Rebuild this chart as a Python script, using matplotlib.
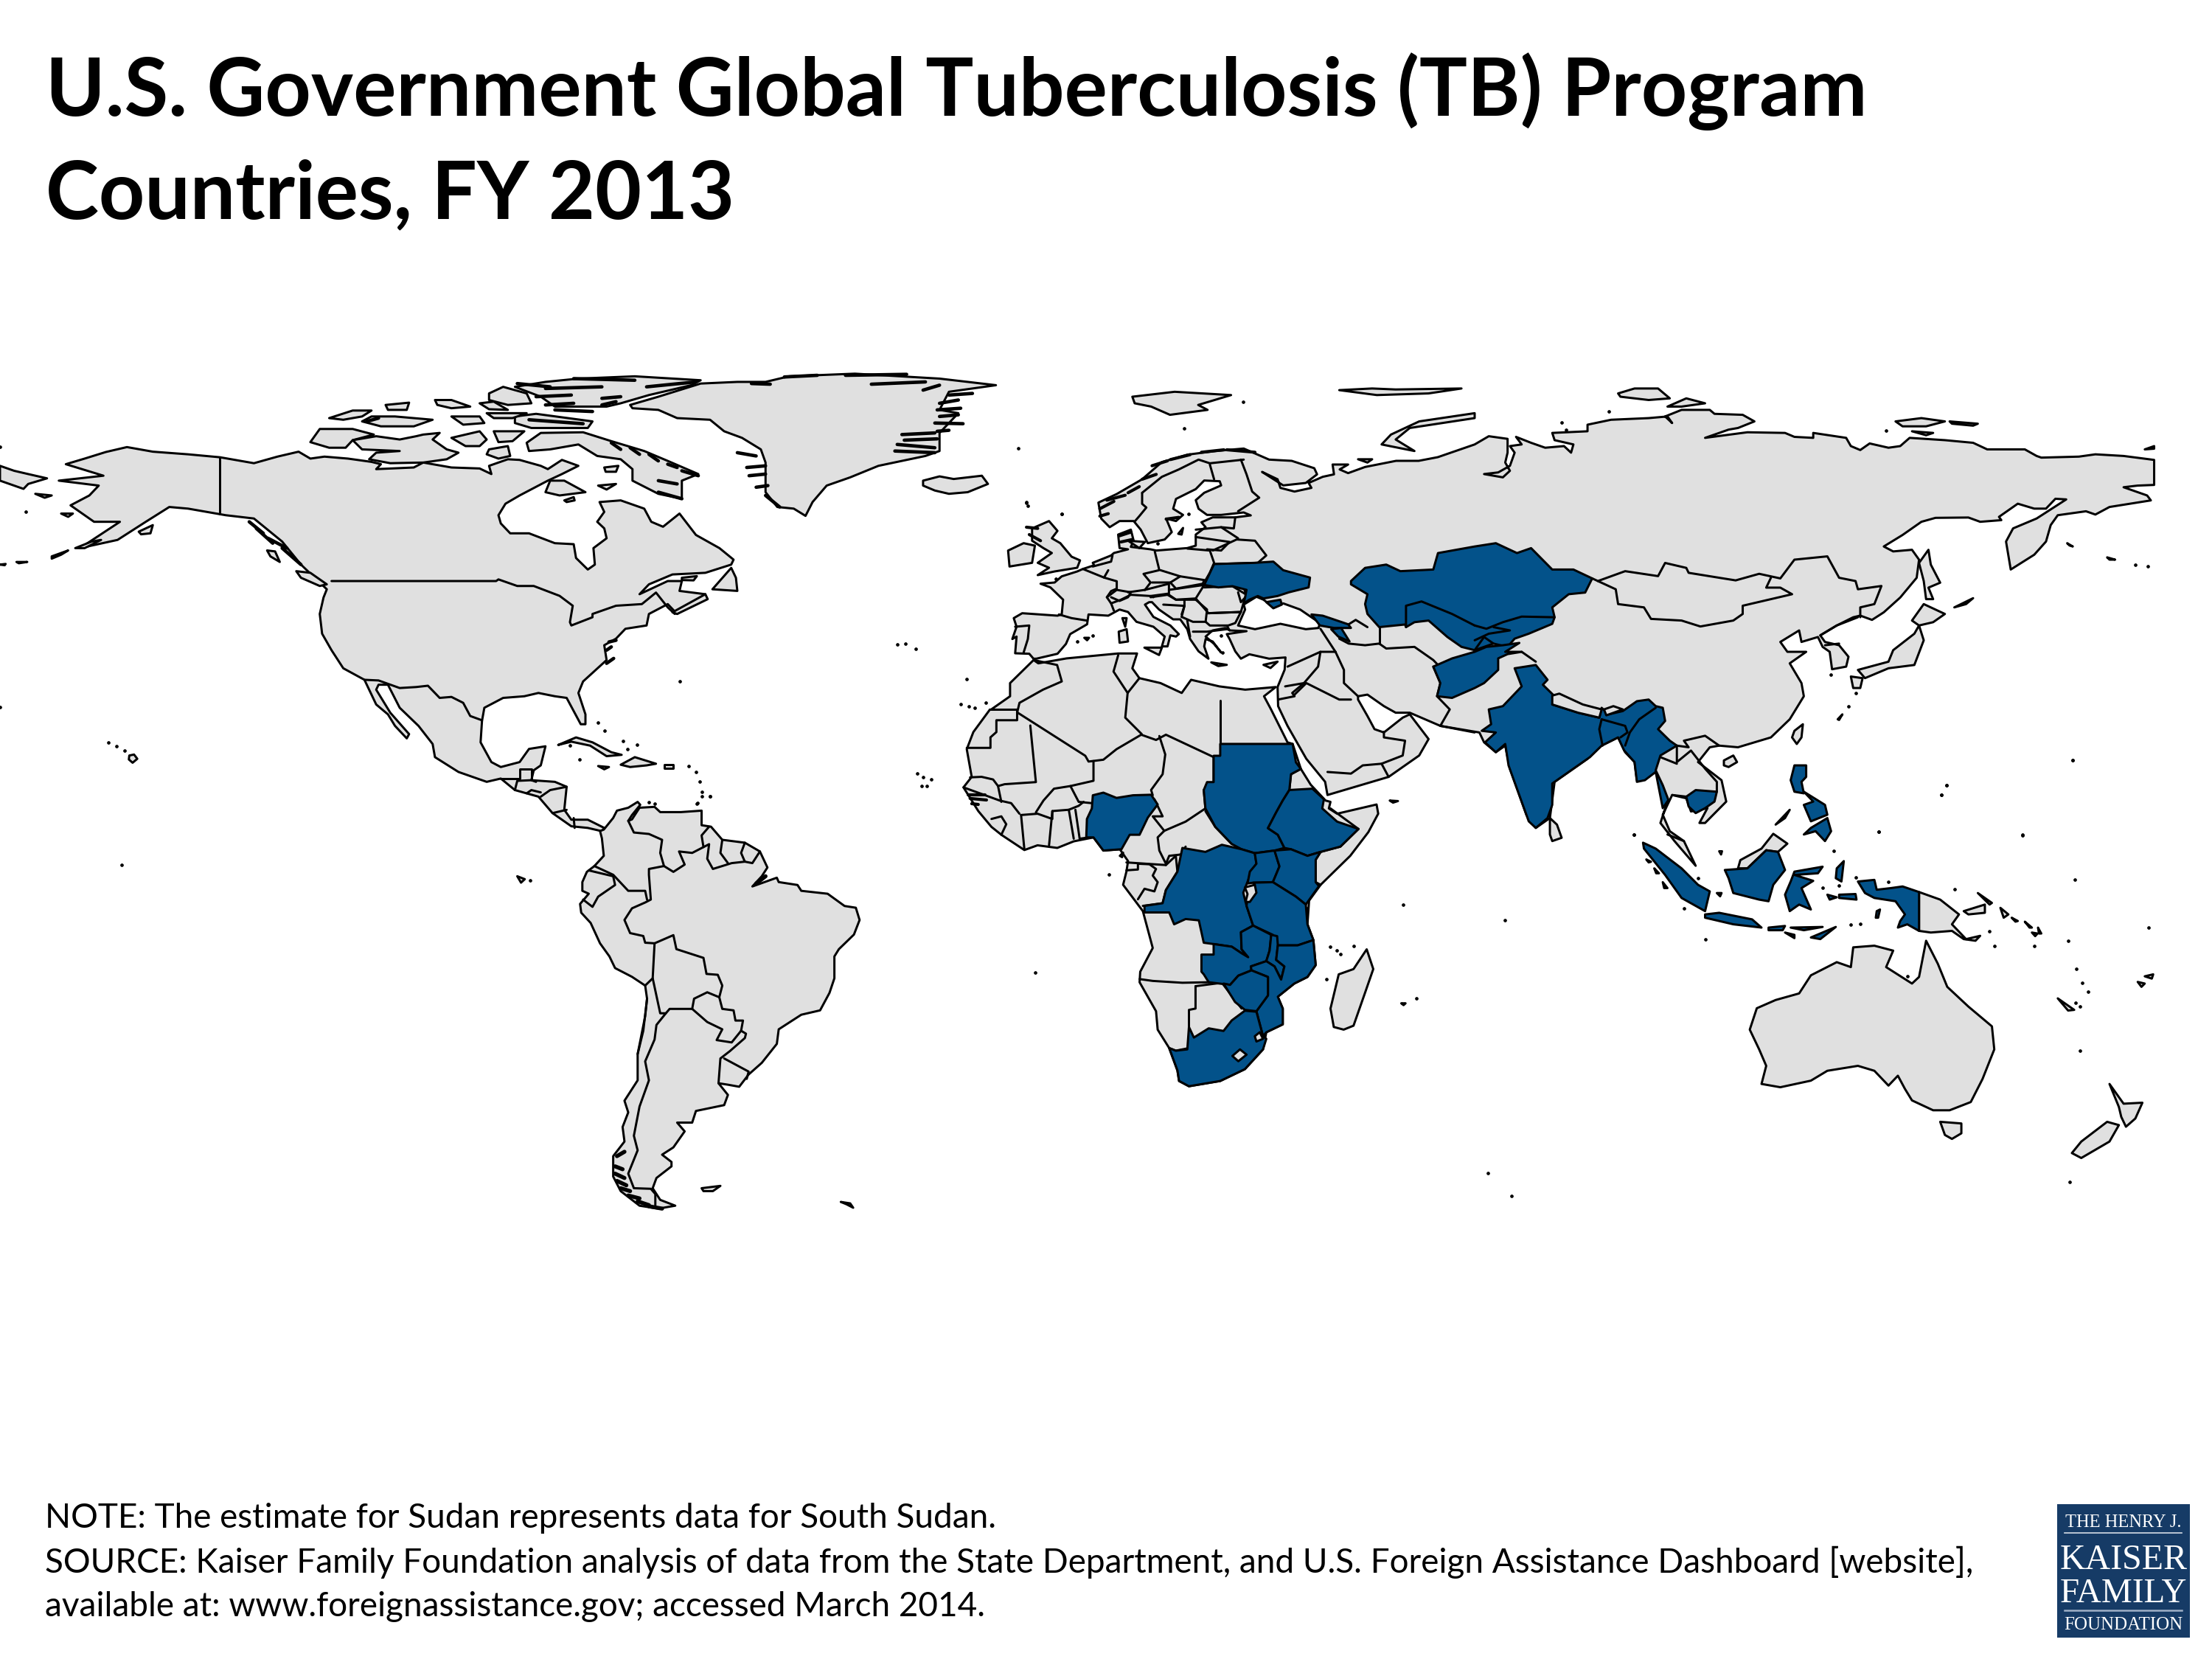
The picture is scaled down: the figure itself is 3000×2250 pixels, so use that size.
import matplotlib
matplotlib.use("Agg")
import matplotlib.pyplot as plt

GRAY = "#E0E0E0"
BLUE = "#03528A"
NAVY = "#163B66"
LW = 0.72

TITLE_LINES = ["U.S. Government Global Tuberculosis (TB) Program", "Countries, FY 2013"]
NOTE_LINES = ["NOTE: The estimate for Sudan represents data for South Sudan.",
              "SOURCE: Kaiser Family Foundation analysis of data from the State Department, and U.S. Foreign Assistance Dashboard [website],",
              "available at: www.foreignassistance.gov; accessed March 2014."]
LOGO_LINES = ["THE HENRY J.", "KAISER", "FAMILY", "FOUNDATION"]

# outline readings: each sheet of the map has an origin and a stretch
Z1 = (0, 480, 1.568, 2.24)
Z2 = (1000, 480, 1.568, 2.24)
Z3 = (2000, 480, 1.568, 2.24)
Z4 = (500, 1050, 1.96, 2.529)
Z5 = (1300, 950, 2.24, 2.8)
Z6 = (2000, 950, 1.568, 2.24)
Z8 = (1350, 600, 2.613, 3.0)

# ---------------- North America (sheet Z1)
NORTH_AMERICA = [(140,335),(180,318),(225,298),(270,283),(325,297),(400,305),(468,314),(540,332),(590,312),(635,297),(660,318),(690,312),(740,318),(790,328),(810,335),(800,350),(880,345),(900,330),(960,345),(1020,348),(1045,365),(1040,340),(1080,320),(1105,322),(1150,340),(1165,350),(1195,322),(1230,340),(1195,365),(1165,385),(1105,430),(1075,455),(1060,490),(1065,515),(1085,545),(1125,545),(1180,575),(1220,578),(1225,620),(1250,655),(1265,640),(1262,590),(1290,560),(1285,530),(1270,510),(1285,480),(1275,450),(1320,445),(1370,470),(1385,510),(1410,525),(1445,485),(1480,550),(1530,590),(1560,625),(1555,640),(1500,665),(1430,670),(1380,700),(1360,730),(1420,690),(1450,690),(1445,720),(1500,730),(1440,790),(1420,760),(1380,790),(1375,825),(1330,835),(1310,865),(1285,885),(1290,930),(1240,995),(1230,1030),(1245,1095),(1245,1125),(1235,1125),(1205,1045),(1180,1040),(1145,1030),(1115,1040),(1070,1045),(1030,1075),(1025,1115),(1022,1180),(1045,1240),(1065,1255),(1105,1240),(1125,1200),(1160,1192),(1150,1250),(1135,1265),(1130,1295),(1180,1300),(1205,1315),(1200,1385),(1215,1415),(1250,1415),(1285,1440),(1280,1450),(1250,1440),(1215,1435),(1175,1395),(1145,1345),(1095,1325),(1065,1290),(1035,1300),(975,1270),(925,1225),(920,1185),(890,1130),(850,1075),(825,1005),(805,1005),(800,1020),(830,1090),(870,1155),(865,1168),(840,1130),(825,1095),(800,1065),(775,990),(730,955),(705,900),(685,850),(680,790),(688,740),(695,715),(640,640),(600,570),(540,500),(480,490),(400,470),(360,465),(310,510),(250,565),(170,590),(255,510),(200,510),(150,460),(190,430),(210,400),(125,385),(220,370),(140,335)]
NA_ISLANDS = [
 [(660,268),(680,228),(750,228),(795,245),(750,262),(735,285),(700,285)],
 [(750,262),(800,250),(850,260),(885,250),(900,245),(935,240),(920,260),(950,290),(975,300),(950,320),(900,330),(830,332),(785,320),(800,300),(850,295),(770,290)],
 [(1120,270),(1150,240),(1240,238),(1300,265),(1370,295),(1420,325),(1485,365),(1450,385),(1450,440),(1400,425),(1345,385),(1345,350),(1320,320),(1270,310),(1230,275),(1170,290),(1125,295)],
 [(1230,75),(1350,68),(1490,80),(1470,95),(1380,125),(1320,150),(1290,160),(1180,160),(1150,130),(1095,100),(1160,85)],
 [(1040,120),(1070,100),(1120,120),(1130,150),(1080,155),(1040,140)],
 [(1095,190),(1140,182),(1260,205),(1250,225),(1130,225),(1095,210)],
 [(1050,235),(1115,235),(1090,265),(1060,268)],
 [(960,255),(1020,235),(1035,260),(1020,280),(990,280)],
 [(1040,290),(1080,280),(1085,310),(1060,318),(1035,305)],
 [(700,195),(750,172),(790,172),(770,190),(730,200)],
 [(770,205),(790,190),(840,190),(920,200),(880,220),(810,220)],
 [(820,155),(870,148),(865,170),(825,170)],
 [(925,140),(960,140),(1000,160),(960,165),(930,155)],
 [(1020,150),(1050,145),(1080,170),(1040,168)],
 [(960,190),(1020,190),(1030,210),(985,215)],
 [(1035,180),(1120,180),(1090,195),(1050,195)],
 [(1170,385),(1200,385),(1245,420),(1190,430),(1160,420)],
 [(1285,345),(1315,340),(1310,358),(1288,358)],
 [(1272,400),(1310,395),(1290,412)],
 [(1200,445),(1220,435),(1222,445),(1205,450)],
 [(0,340),(30,355),(60,365),(100,378),(60,395),(50,410),(20,395),(0,385)],
 [(75,425),(110,430),(95,437)],
 [(130,485),(155,485),(145,495)],
 [(295,540),(325,520),(320,545),(300,548)],
 [(110,615),(145,597),(130,610),(110,622)],
 [(160,590),(195,570),(215,565),(180,590)],
 [(0,640),(12,638),(10,642)],
 [(35,632),(58,632),(40,636)],
 [(568,597),(585,600),(595,632),(575,615)],
 [(630,660),(660,665),(695,700),(680,705),(640,680)],
 [(275,1220),(285,1217),(292,1230),(282,1242),(274,1232)],
 [(1187,1188),(1225,1165),(1260,1180),(1300,1210),(1322,1218),(1290,1222),(1255,1190),(1215,1178)],
 [(1320,1248),(1350,1225),(1395,1245),(1375,1250),(1340,1255)],
 [(1272,1252),(1295,1255),(1285,1262)],
 [(1412,1248),(1432,1248),(1432,1258),(1412,1258)],
 [(1515,715),(1555,650),(1565,680),(1568,720)],
 [(1450,680),(1482,675),(1475,688),(1450,687)],
 [(1430,785),(1500,730),(1505,745),(1440,790)],
]
NA_BORDERS = [
 [(468,314),(468,485)],
 [(705,690),(1055,690),(1060,685),(1100,705),(1135,705),(1190,735),(1218,765),(1212,815),(1215,825),(1260,800),(1260,790),(1310,765),(1365,760),(1395,725),(1420,770),(1435,790)],
 [(775,990),(805,992),(850,1015),(885,1012),(910,1008),(935,1045),(960,1042),(985,1060),(1000,1100),(1025,1113)],
 [(1065,1290),(1105,1290),(1105,1262),(1130,1262),(1130,1295)],
 [(1095,1325),(1100,1297),(1130,1295),(1140,1300)],
 [(1120,1335),(1130,1325),(1150,1332)],
 [(1150,1345),(1170,1325),(1205,1315)],
 [(1175,1395),(1205,1385)],
 [(1220,1410),(1222,1440)],
]
NA_JAGS = [
 [(530,510),(560,545)],[(545,530),(580,575)],[(570,560),(610,590)],[(600,590),(640,640)],
 [(1100,90),(1170,100)],[(1160,105),(1280,100)],[(1220,75),(1350,80)],[(1375,100),(1480,85)],
 [(1280,135),(1320,130)],[(1280,155),(1310,145)],[(1140,130),(1215,125)],[(1160,155),(1220,150)],
 [(1180,170),(1260,175)],[(780,205),(805,195)],[(1125,200),(1240,212)],
 [(1300,270),(1320,290)],[(1340,285),(1360,305)],[(1380,305),(1400,325)],[(1420,335),(1440,345)],[(1450,355),(1485,370)],
 [(1400,385),(1440,395)],[(1400,420),(1450,440)],
 [(1295,875),(1310,870)],[(1290,900),(1300,890)],[(1290,940),(1305,925)],
]
NA_DOTS = [(230,1180),(248,1192),(265,1205),(55,480),(1445,995),(258,1552),(0,282),(0,1072),(1272,1120),(1285,1145),(1325,1175),(1335,1200),(1355,1188),(1232,1233),(1465,1253),(1480,1270),(1488,1300),(1492,1330),(1483,1365),(1510,1345),(1212,1190)]

# ---------------- South America (sheet Z4)
SOUTH_AMERICA = [(625,190),(650,150),(660,125),(690,115),(715,95),(722,105),(700,140),(690,160),(700,155),(720,115),(760,112),(775,130),(830,130),(885,125),(885,175),(910,180),(940,225),(1000,235),(1040,265),(1060,320),(1045,350),(1020,385),(1085,355),(1090,370),(1140,380),(1150,400),(1220,410),(1265,452),(1295,458),(1305,500),(1290,550),(1250,600),(1238,625),(1238,700),(1225,750),(1200,810),(1150,825),(1090,875),(1085,925),(1045,990),(1010,1030),(985,1072),(955,1065),(930,1060),(955,1100),(945,1135),(870,1155),(860,1195),(820,1195),(840,1225),(810,1280),(780,1305),(805,1330),(805,1345),(765,1385),(755,1420),(775,1460),(815,1480),(770,1490),(720,1480),(670,1430),(650,1380),(650,1310),(680,1260),(675,1210),(690,1160),(680,1120),(715,1050),(715,960),(730,880),(740,770),(735,725),(700,695),(655,665),(640,625),(615,580),(590,510),(565,475),(562,445),(585,410),(568,400),(568,370),(580,335),(600,315),(625,280),(620,220),(615,195)]
SA_ISLANDS = [
 [(885,1420),(935,1412),(915,1430),(890,1430)],
 [(1255,1467),(1280,1472),(1288,1487),(1270,1475)],
 [(395,350),(415,360),(405,372)],
]
SA_BORDERS = [
 [(690,160),(705,200),(745,205),(780,225),(775,270),(785,315),(810,335),(840,310),(825,265),(860,270),(890,250),(885,210),(905,180)],
 [(890,250),(905,240),(900,290),(915,325),(965,305),(1000,300),(1020,305),(1040,265)],
 [(940,225),(935,270),(955,305)],
 [(1000,235),(990,270),(1000,300)],
 [(785,315),(745,325),(745,345),(750,430),(735,440),(700,460),(680,500),(695,545),(730,555),(735,578),(760,580),(810,552),(818,600),(890,630),(898,685),(928,688),(940,725),(932,765),(940,805),(970,810),(975,845),(995,845),(990,880),(1003,890),(1000,905),(960,950),(935,975),(930,1060)],
 [(600,315),(650,345),(690,400),(735,400),(740,430)],
 [(585,330),(650,350),(655,380),(610,420),(595,455),(570,430)],
 [(760,580),(755,700),(735,725)],
 [(755,700),(765,760),(775,820),(790,820),(800,805),(860,805),(865,770),(900,748),(932,765)],
 [(860,805),(900,850),(940,875),(925,912),(965,920),(990,880)],
 [(790,820),(765,860),(760,910),(735,985),(745,1050),(720,1140),(705,1240),(715,1290),(690,1370),(705,1420),(750,1422),(762,1440),(762,1480)],
 [(740,770),(735,830),(715,960)],
 [(945,975),(1010,1020),(1005,1045)],
]
SA_JAGS = [
 [(655,1345),(675,1355)],[(655,1370),(680,1385)],[(660,1395),(685,1410)],[(670,1420),(695,1430)],[(690,1445),(720,1455)],[(715,1465),(745,1478)],[(745,1482),(780,1490)],
 [(660,1310),(680,1295)],[(1030,375),(1055,350)],
]
SA_DOTS = [(430,365),(745,95),(760,100),(873,100),(908,75),(885,75)]

# ---------------- Eurasia (sheets Z8, Z3, Z2)
EURASIA_A = [(135,880),(120,860),(70,858),(75,790),(60,800),(75,750),(65,715),(95,695),(220,705),(235,700),(240,640),(195,590),(160,575),(210,570),(235,545),(290,525),(310,515),(350,500),(345,490),(410,460),(420,450),(470,435),(440,430),(435,375),(480,355),(490,400),(480,425),(550,435),(570,440),(680,430),(710,420),(710,375),(745,345),(730,325),(770,305),(850,305),(905,297),(880,285),(800,295),(750,295),(720,270),(710,235),(740,205),(800,175),(795,158),(740,155),(710,190),(640,230),(630,270),(665,295),(640,320),(605,310),(625,365),(600,395),(540,410),(515,355),(490,320),(440,320),(405,345),(375,310),(365,245),(430,210),(520,150),(590,80),(680,50),(780,35),(880,25),(920,45),(970,70),(1050,75),(1130,105),(1140,130),(1100,165),(1020,175),(945,120),(1000,150),(1010,185),(1060,200),(1120,185),(1110,165),(1160,140),(1200,130),(1195,90),(1250,90),(1220,110),(1250,125),(1310,100),(1420,75),(1500,75),(1568,60)]
EURASIA_B = [(0,275),(30,250),(70,258),(70,300),(65,330),(75,355),(60,375),(20,365),(50,360),(75,340),(85,300),(75,280),(100,275),(88,252),(120,270),(150,285),(190,280),(205,300),(210,275),(170,262),(165,240),(240,235),(240,215),(290,200),(370,195),(410,190),(420,210),(405,190),(440,170),(500,170),(510,182),(570,185),(595,205),(560,225),(540,230),(490,255),(580,238),(660,240),(680,252),(720,255),(720,240),(790,255),(800,280),(820,292),(840,272),(880,285),(905,280),(925,255),(1000,262),(1060,270),(1090,290),(1170,290),(1195,310),(1205,315),(1285,312),(1320,305),(1380,310),(1445,322),(1445,398),(1410,400),(1380,405),(1430,430),(1438,445),(1350,465),(1320,488),(1300,478),(1240,490),(1225,520),(1215,570),(1190,610),(1140,655),(1130,570),(1145,530),(1195,500),(1258,442),(1235,440),(1215,470),(1190,470),(1155,455),(1115,495),(1120,505),(1075,510),(1050,497),(980,498),(950,510),(910,550),(870,585),(890,600),(930,595),(945,625),(940,680),(905,740),(870,785),(845,808),(820,795),(805,800),(770,825),(735,855),(745,875),(775,885),(795,920),(790,950),(760,958),(755,905),(740,890),(730,860),(695,875),(690,840),(650,875),(665,905),(705,905),(670,940),(695,1000),(700,1040),(670,1110),(630,1165),(560,1195),(520,1190),(500,1195),(475,1240),(525,1295),(535,1360),(490,1425),(478,1425),(495,1380),(460,1390),(450,1350),(420,1340),(400,1400),(415,1450),(445,1480),(470,1555),(425,1480),(395,1425),(410,1360),(385,1270),(345,1295),(340,1240),(320,1210),(305,1165),(270,1190),(240,1230),(170,1300),(160,1410),(130,1440),(110,1400),(75,1260),(65,1190),(45,1210),(20,1180),(10,1150)]
EURASIA_C = [(1495,1130),(1430,1090),(1400,1090),(1375,1070),(1340,1035),(1320,1040),(1320,1050),(1340,1100),(1355,1140),(1375,1150),(1415,1105),(1430,1095),(1470,1170),(1450,1220),(1385,1285),(1255,1340),(1250,1300),(1210,1230),(1170,1130),(1150,1070)]
EURASIA_D = [(1000,995),(1025,925),(1028,875),(970,880),(900,862),(870,880),(850,850),(830,800),(820,780),(890,768),(830,765),(815,755),(770,765),(745,790),(775,820),(800,855),(770,810),(745,800),(740,830),(755,880),(720,850),(690,800),(680,760),(655,720),(630,720),(580,680),(555,650),(545,650),(530,660),(560,710),(620,745),(650,780),(640,790),(620,785),(610,830),(590,830),(600,790),(560,750),(500,730),(470,690),(440,680),(400,705),(330,700),(325,740),(265,780),(250,820),(220,860),(145,880)]
BLACK_SEA = [(860,745),(885,680),(880,660),(925,628),(950,640),(985,670),(1020,655),(1080,680),(1150,735),(1145,755),(1100,760),(1010,738),(920,760)]
EU_ISLANDS = [
 [(130,350),(190,320),(220,360),(200,390),(230,410),(270,465),(300,480),(290,510),(210,525),(150,540),(190,510),(150,490),(200,450),(170,430),(130,400)],
 [(45,440),(100,410),(140,420),(130,490),(50,505)],
 [(437,770),(465,760),(470,810),(440,815)],
 [(450,715),(465,715),(460,750)],
 [(528,835),(590,835),(580,865)],
 [(765,895),(820,905),(790,910)],
 [(950,905),(1000,892),(975,918)],
 [(648,372),(665,348),(660,375)],
 [(470,400),(530,405),(510,430)],
 [(315,795),(332,795),(325,805)],
]
EU_BORDERS = [
 [(225,700),(270,715),(325,725)],
 [(310,515),(385,550),(430,565),(430,595),(410,605),(395,630),(410,655),(420,685)],
 [(345,505),(410,485),(415,460)],
 [(385,550),(400,520)],
 [(565,445),(580,515)],
 [(580,520),(525,535),(550,570),(530,600)],
 [(470,610),(530,600)],
 [(680,432),(760,440),(775,490),(760,530),(745,560)],
 [(585,520),(655,545),(620,570),(555,570)],
 [(655,545),(740,560),(735,575),(640,595),(620,570)],
 [(530,600),(615,575),(615,615),(550,625)],
 [(615,600),(740,580),(710,635),(640,640),(615,620)],
 [(395,630),(430,600),(480,610),(470,630),(440,645),(410,630)],
 [(410,655),(445,640),(480,620),(550,625),(560,630)],
 [(550,630),(610,620),(640,640),(710,640)],
 [(595,660),(670,665),(660,700)],
 [(670,640),(670,665),(660,710)],
 [(710,640),(750,680),(745,730),(700,730),(660,710)],
 [(740,590),(840,585),(890,620),(880,650),(870,690),(755,695),(710,635)],
 [(750,695),(870,690),(850,735),(825,745),(760,745),(745,730)],
 [(840,585),(880,590),(890,625),(870,650),(860,610)],
 [(680,725),(690,790)],
 [(700,770),(750,770),(820,760)],
 [(820,745),(830,765)],
 [(770,440),(855,395),(920,400),(960,460),(930,490),(780,495)],
 [(710,385),(830,405),(800,440),(750,435)],
 [(710,355),(800,345),(860,390)],
 [(800,345),(845,350),(850,305)],
 [(870,70),(890,130),(910,200),(935,225),(860,280)],
 [(760,90),(775,150)],
 [(520,205),(520,250),(535,265),(510,300),(495,320)],
 [(520,205),(590,140),(650,110),(720,70),(760,85),(880,70)],
 [(70,750),(120,745),(115,800),(100,855)],
]
EU_JAGS = [
 [(370,300),(400,290)],[(370,270),(420,240)],[(395,235),(460,215)],[(470,205),(510,180)],[(520,150),(570,130)],[(555,95),(610,75)],[(620,70),(690,50)],[(730,40),(810,30)],[(820,30),(920,40)],
 [(440,380),(480,365)],[(445,405),(485,395)],[(110,345),(150,350)],[(120,375),(160,400)],[(605,312),(650,305)],
]
EU_DOTS = [(290,810),(345,785),(215,555),(685,290),(110,245),(115,258),(235,290),(575,412),(800,785),(805,855)]

MIDEAST_BORDERS = [
 [(1272,905),(1290,960),(1290,1000),(1320,1040)],
 [(1170,950),(1240,905),(1272,905)],
 [(1240,905),(1235,950),(1205,1000)],
 [(1165,1010),(1205,1000),(1180,1030),(1185,1040),(1150,1050)],
 [(1185,1035),(1210,1000),(1280,1050),(1305,1050)],
 [(1255,1270),(1305,1275),(1330,1250),(1370,1245),(1385,1285)],
 [(1370,1245),(1415,1220),(1420,1175),(1375,1165),(1375,1148)],
 [(1240,835),(1272,905)],
 [(1280,865),(1300,880),(1335,885),(1365,880),(1380,895),(1440,890),(1480,930),(1490,945)],
 [(1480,950),(1495,1000),(1488,1040),(1515,1080),(1495,1130)],
 [(1340,830),(1315,808),(1285,835)],
 [(1365,830),(1365,880)],
 [(1495,1130),(1568,1150)],
]
NORTH_ISLANDS_Z2 = [
 [(840,130),(930,115),(1050,125),(980,155),(1000,170),(920,185),(880,160),(845,150)],
 [(1280,110),(1350,105),(1400,108),(1540,105),(1470,120),(1360,125)],
 [(1568,180),(1450,205),(1390,245),(1370,275),(1440,295),(1400,260),(1430,225),(1568,195)],
 [(1320,320),(1350,320),(1340,330)],
 [(395,385),(430,372),(460,380),(520,370),(533,395),(490,420),(450,425),(420,415),(395,400)],
]
GREENLAND = [(-228,155),(-168,130),(-78,90),(0,85),(60,85),(110,68),(250,60),(430,75),(550,95),(450,115),(430,170),(470,180),(430,240),(430,295),(400,310),(300,340),(240,375),(190,400),(160,450),(145,492),(120,470),(85,465),(60,420),(60,380),(60,330),(50,290),(10,255),(-28,235),(-58,200),(-128,195),(-168,170),(-223,165)]
GREENLAND_JAGS = [
 [(430,150),(470,140)],[(425,170),(475,165)],[(430,190),(470,185)],[(420,210),(480,212)],[(425,235),(450,232)],
 [(350,245),(420,240)],[(355,262),(425,258)],[(340,275),(420,285)],[(335,295),(420,300)],
 [(100,70),(170,65)],[(230,65),(360,62)],[(285,92),(400,85)],[(395,110),(430,95)],[(450,125),(500,120)],[(30,90),(70,92)],
 [(0,300),(40,310)],[(20,345),(60,340)],[(25,370),(60,365)],[(40,405),(65,400)],[(60,430),(90,465)],
]
ASIA_ISLANDS_Z3 = [
 [(305,120),(340,105),(390,105),(415,135),(370,140),(310,130)],
 [(410,160),(450,135),(490,150),(440,160)],
 [(895,205),(950,195),(1000,205),(960,220),(910,220)],
 [(1010,205),(1070,212),(1060,218),(1015,212)],
 [(930,235),(975,240),(960,247)],
 [(1425,290),(1445,280),(1445,288)],
 [(945,635),(965,595),(970,640),(990,695),(965,710),(975,745),(960,745),(955,690)],
 [(930,810),(955,760),(1000,790),(975,815),(945,825)],
 [(815,960),(880,935),(890,900),(935,850),(945,825),(955,870),(935,945),(880,955),(830,985)],
 [(800,980),(825,985),(820,1015),(805,1015)],
 [(680,1145),(698,1125),(695,1165),(685,1185),(675,1165)],
 [(530,1235),(550,1220),(558,1240),(540,1255),(530,1250)],
 [(160,1410),(175,1430),(185,1470),(165,1480),(160,1460)],
 [(1260,575),(1272,585),(1265,582)],
 [(1345,618),(1362,625),(1350,625)],
 [(1020,770),(1060,742),(1045,760)],
 [(772,1110),(782,1095),(775,1112)],
]
ASIA_BORDERS_Z3 = [
 [(250,682),(262,690),(320,660),(390,675),(405,635),(450,650),(455,665),(520,680),(555,688),(605,668),(650,682),(680,625),(750,615),(775,680),(810,690),(815,715),(865,705),(850,760),(820,770),(820,800)],
 [(262,690),(300,715),(305,760),(360,770),(375,805),(440,810),(480,828),(550,810),(570,790),(570,765),(630,745),(675,730),(650,710),(620,710),(630,680)],
 [(735,855),(770,825),(815,800)],
 [(745,885),(775,880)],
 [(430,1190),(455,1195),(445,1175),(490,1160),(520,1190)],
 [(430,1190),(430,1240),(460,1205),(490,1260),(515,1300),(515,1330)],
 [(395,1225),(430,1245)],
 [(410,1460),(445,1480)],
 [(100,905),(130,935)],
 [(450,1345),(420,1340)],
]
ASIA_DOTS_Z3 = [(285,175),(195,230),(185,208),(875,232),(1272,1235),(1003,1310),(992,1340),(860,1452),(1165,1462),(338,1460),(1405,640),(1432,645),(810,1030),(795,1070),(758,975)]

# ---------------- Africa (sheets Z2, Z5)
AFRICA_A = [(630,930),(640,940),(700,925),(810,910),(850,910),(840,955),(855,985),(900,1000),(945,1030),(965,990),(1025,1010),(1080,1020),(1145,1012),(1120,1040),(1135,1080),(1170,1180)]
AFRICA_B = [(1015,165),(1040,260),(1070,320),(1115,380),(1130,385),(1125,410),(1150,430),(1270,395),(1275,430),(1245,500),(1190,590),(1100,700),(1065,760),(1060,850),(1078,910),(1085,1005),(1060,1050),(1020,1075),(970,1125),(985,1170),(985,1230),(935,1260),(925,1325),(870,1400),(795,1445),(700,1465),(670,1445),(665,1405),(640,1320),(605,1250),(600,1180),(550,1070),(552,1030),(590,940),(575,870),(560,800),(500,700),(510,650),(515,610),(490,565),(440,570),(410,520),(350,535),(300,560),(240,550),(200,568),(130,510),(100,480),(60,420),(15,330),(40,290),(25,185),(45,120),(95,35)]
AFRICA_C = [(540,1080),(580,1040),(580,1000)]
AF_ISLANDS = [
 [(1130,1170),(1155,1040),(1200,1020),(1240,945),(1260,1020),(1235,1110),(1200,1235),(1170,1250),(1140,1240)],
 [(1310,380),(1335,382),(1320,388)],
 [(490,590),(500,578),(497,595)],
 [(1345,1150),(1358,1150),(1352,1157)],
]
AF_BORDERS = [
 [(25,180),(97,180),(97,140),(115,120),(115,75),(178,75),(178,35),(95,35)],
 [(178,45),(385,210),(395,232),(440,225),(480,185),(555,130)],
 [(218,95),(235,310),(140,318),(120,325),(105,300),(70,290),(35,292)],
 [(555,130),(600,150),(630,130),(775,215)],
 [(795,0),(795,160)],
 [(610,135),(628,205),(620,280),(585,340),(590,360)],
 [(410,230),(410,305),(340,325),(290,335),(258,380),(235,425)],
 [(775,215),(775,310),(745,340),(750,410),(690,460),(625,495),(590,440),(620,440),(595,375)],
 [(625,495),(605,520),(610,570),(630,620),(640,590),(675,585),(690,555)],
 [(750,420),(780,480),(830,545)],
 [(510,615),(630,625)],
 [(510,645),(545,642),(545,620),(580,622),(600,640),(590,665),(605,690),(595,725),(565,715),(545,755)],
 [(630,625),(660,590),(665,650),(630,720),(620,770),(560,780)],
 [(15,330),(125,380),(160,390),(185,430)],
 [(190,435),(200,565)],
 [(285,420),(275,550)],
 [(335,415),(350,525)],
 [(355,415),(368,525),(385,522)],
 [(120,325),(130,385)],
 [(190,435),(240,430),(285,450),(285,420),(335,415),(365,400),(380,385)],
 [(100,450),(130,440),(145,470),(130,510)],
 [(340,325),(365,385),(405,390)],
 [(550,1058),(590,1065),(680,1072),(760,1070)],
 [(720,1085),(720,1170),(700,1175),(700,1320),(660,1330),(640,1320)],
 [(720,1085),(800,1072),(860,1170)],
 [(1215,488),(1160,555),(1100,575),(1085,605),(1085,690),(1100,700)],
 [(1005,340),(1010,280),(1040,260)],
 [(1130,410),(1215,488)],
]
AF_BORDERS_Z2 = [
 [(630,930),(680,945),(690,995),(650,1020),(600,1060),(595,1090)],
 [(810,915),(800,965),(830,1030),(825,1105),(860,1155)],
 [(830,1030),(855,985)],
]
AF_JAGS = [[(30,358),(80,358)],[(35,372),(85,378)],[(40,392),(60,395)]]
AF_DOTS = [(457,662),(232,1032),(1350,775),(1128,935),(1150,948),(1160,962),(1200,932),(1118,1058),(1390,1132),(1060,790)]
AF_DOTS_Z2 = [(340,882),(357,880),(380,895),(488,987),(475,1063),(492,1070),(505,1075),(528,1060),(382,1275),(395,1285),(413,1292),(392,1313),(403,1312),(598,287),(950,226),(1075,145),(615,450),(690,485)]

# ---------------- blue programme countries
UKRAINE = [(740,580),(775,495),(920,490),(985,485),(1020,520),(1115,550),(1110,590),(1040,610),(1000,625),(950,635),(930,625),(900,640),(880,655),(885,630),(890,600),(840,585),(790,590)]
CRIMEA = [(960,650),(1010,640),(1015,660),(985,675)]
GEORGIA_AZ = [(1120,700),(1160,705),(1250,740),(1260,755),(1200,755),(1150,745)]
ARMENIA = [(1190,760),(1225,755),(1255,810),(1215,790)]
CASIA_A = [(1305,690),(1335,650),(1380,640),(1410,660),(1480,655),(1490,605),(1568,585)]
CASIA_B = [(45,575),(90,605),(120,590),(165,655),(210,655),(250,682),(235,725),(200,730),(165,770),(170,800),(165,820),(115,850),(85,865),(70,890),(40,880),(0,900)]
CASIA_C = [(1540,890),(1510,860),(1470,810),(1440,815),(1422,830),(1420,822),(1365,830),(1340,790),(1335,760),(1340,730),(1305,700)]
CASIA_LINES_Z2 = [[(1422,830),(1422,765),(1455,752),(1520,790),(1568,825)]]
CASIA_LINES_Z3 = [[(170,800),(100,798),(60,815),(25,835),(0,825)],[(0,870),(30,850),(75,840),(40,830)],[(0,900),(20,860),(40,880)]]
AFGHAN_A = [(1480,950),(1520,925),(1568,905)]
AFGHAN_B = [(25,890),(60,885),(95,878),(65,905),(100,905),(70,912),(50,925),(50,960),(20,1000),(0,1015)]
AFGHAN_C = [(1520,1045),(1488,1040),(1495,1000)]
INDIA_BURMA = [(85,955),(130,945),(155,990),(145,1005),(170,1040),(165,1065),(220,1090),(265,1105),(270,1075),(285,1095),(315,1085),(345,1055),(370,1050),(385,1070),(400,1075),(405,1115),(390,1140),(415,1175),(430,1190),(395,1220),(385,1265),(400,1310),(412,1355),(400,1380),(385,1270),(362,1295),(345,1300),(340,1240),(318,1205),(305,1165),(270,1190),(245,1225),(190,1280),(165,1305),(165,1370),(155,1410),(130,1440),(115,1420),(72,1250),(65,1185),(45,1210),(22,1180),(45,1150),(15,1145),(35,1125),(30,1080),(60,1070),(100,1010)]
INDIA_LINES = [[(270,1110),(320,1130),(325,1150),(310,1165)],[(270,1110),(265,1140),(272,1190)],[(385,1075),(350,1110),(330,1150),(320,1190)]]
NEPAL = [(165,1065),(165,1038),(180,1032),(230,1065),(270,1080),(265,1105),(220,1090)]
BHUTAN = [(275,1080),(295,1070),(315,1080),(280,1098)]
CAMBODIA = [(450,1345),(470,1325),(515,1330),(510,1360),(490,1380),(470,1395),(455,1375)]
LUZON = [(680,1250),(705,1250),(705,1285),(695,1300),(700,1335),(680,1330),(672,1295)]
VISAYAS = [(700,1330),(745,1370),(750,1400),(715,1420),(700,1370),(720,1360)]
MINDANAO = [(715,1440),(750,1410),(758,1450),(745,1480),(725,1450),(700,1460)]
PALAWAN = [(640,1430),(670,1385),(660,1410)]
SUMATRA = [(358,432),(385,450),(440,510),(475,560),(500,580),(490,640),(440,600),(405,530),(360,450)]
JAVA = [(490,650),(520,645),(590,665),(610,690),(550,680),(490,660)]
LESSER_SUNDA = [[(625,690),(660,685),(655,698),(625,698)],[(672,690),(740,688),(700,698)],[(660,705),(680,712),(680,722)],[(715,720),(768,688),(735,725)]]
BORNEO = [(532,515),(580,510),(620,455),(645,460),(660,515),(635,560),(625,610),(605,605),(550,585),(540,540)]
SULAWESI = [(680,520),(740,505),(730,525),(680,530),(720,548),(695,570),(715,635),(690,620),(670,640),(660,590),(672,550)]
MOLUCCAS = [[(770,510),(785,488),(780,550),(768,540)],[(750,590),(770,598),(755,605)],[(775,590),(810,588),(812,605),(775,600)],[(855,640),(862,635),(858,660),(853,660)]]
PAPUA = [(815,550),(850,545),(855,575),(885,570),(910,565),(945,582),(945,700),(920,680),(900,690),(905,670),(915,650),(895,610),(850,600),(830,585)]
NIGERIA = [(388,520),(390,450),(405,410),(408,360),(440,350),(480,370),(530,360),(585,358),(605,395),(575,445),(550,510),(520,510),(495,565),(440,570),(410,520)]
SUDAN = [(795,165),(1015,165),(1025,235),(1040,260),(1010,280),(1005,340),(985,380),(965,425),(940,485),(970,510),(990,560),(960,570),(900,580),(860,565),(830,545),(780,480),(750,410),(745,340),(755,310),(775,310),(775,210),(795,210)]
ETHIOPIA = [(1005,340),(1075,335),(1110,375),(1105,410),(1150,460),(1215,488),(1160,555),(1100,575),(1060,590),(1010,565),(990,560),(970,510),(940,485),(965,425),(985,380)]
DRC = [(565,805),(640,805),(655,850),(690,830),(730,835),(745,920),(775,925),(830,935),(860,960),(880,975),(860,945),(858,880),(895,855),(875,780),(865,730),(890,650),(905,620),(900,580),(860,565),(800,548),(750,575),(680,560),(665,650),(630,720),(620,770),(565,780)]
UGANDA = [(900,580),(960,570),(975,630),(955,690),(895,692),(878,695),(885,650),(905,620)]
KENYA = [(960,570),(1010,565),(1060,590),(1100,575),(1085,605),(1085,690),(1095,705),(1055,775),(1025,745),(955,690),(975,630)]
TANZANIA = [(895,692),(955,690),(1025,745),(1055,775),(1060,850),(1078,910),(1030,930),(970,930),(955,890),(895,855),(875,780),(880,730),(900,700)]
ZAMBIA = [(775,925),(830,935),(860,960),(880,975),(860,945),(858,880),(895,855),(950,890),(945,950),(935,990),(888,1010),(890,1025),(850,1045),(825,1080),(760,1070),(745,1040),(738,1030),(738,965),(775,965)]
MALAWI = [(950,890),(968,895),(970,930),(965,985),(990,1010),(980,1060),(960,1010),(935,990),(945,950)]
MOZAMBIQUE = [(970,930),(1030,930),(1078,910),(1085,1005),(1060,1050),(1020,1075),(970,1125),(985,1170),(985,1230),(935,1260),(925,1275),(905,1180),(940,1120),(940,1050),(890,1025),(888,1010),(935,990),(960,1010),(980,1060),(990,1010),(965,985)]
ZIMBABWE = [(805,1075),(825,1080),(850,1045),(890,1025),(940,1050),(940,1120),(905,1180),(870,1175),(840,1145)]
SOUTH_AFRICA = [(640,1320),(660,1330),(695,1325),(700,1240),(715,1280),(760,1245),(805,1255),(830,1215),(870,1178),(905,1182),(925,1275),(935,1285),(925,1325),(870,1400),(795,1445),(700,1465),(670,1445),(665,1405)]
GRAY_ON_BLUE_Z5 = [
 [(870,710),(900,700),(905,730),(885,765),(872,765),(878,735)],
 [(832,1350),(855,1325),(875,1345),(850,1370)],
 [(900,1275),(915,1260),(925,1285),(905,1295)],
]
# ---------------- Oceania and SE Asia gray (sheet Z6)
BORNEO_NORTH = [(560,510),(565,485),(610,450),(635,405),(665,435),(645,460),(620,455),(580,510)]
PNG = [(945,582),(990,605),(1030,650),(1015,680),(1045,725),(1075,715),(1065,730),(1040,725),(1015,700),(970,705),(945,700)]
OCEANIA = [
 [(585,1000),(600,935),(640,910),(690,890),(715,835),(770,795),(800,810),(805,750),(850,745),(890,760),(875,810),(930,860),(945,840),(960,730),(985,800),(1005,870),(1050,930),(1100,990),(1105,1060),(1080,1150),(1055,1220),(1010,1245),(975,1245),(930,1215),(915,1180),(900,1140),(880,1170),(850,1125),(815,1110),(750,1125),(715,1155),(650,1175),(610,1165),(620,1110),(605,1060)],
 [(990,1280),(1035,1285),(1035,1315),(1015,1332),(1000,1320)],
 [(1350,1165),(1380,1225),(1420,1222),(1405,1270),(1385,1295),(1375,1265),(1370,1235)],
 [(1270,1375),(1290,1340),(1345,1280),(1370,1290),(1350,1340),(1290,1390)],
 [(1240,905),(1275,940),(1262,942)],
 [(1410,855),(1425,860),(1418,870)],
 [(1425,838),(1443,832),(1440,845)],
 [(1040,640),(1085,620),(1085,645),(1050,650)],
 [(1070,585),(1100,615),(1095,620)],
 [(1118,630),(1135,650),(1125,660)],
 [(1185,705),(1197,708),(1192,716)],
 [(1142,660),(1155,670),(1150,672)],
 [(1170,672),(1185,690),(1180,690)],
 [(1198,690),(1205,708),(1200,708)],
 [(520,458),(526,458),(524,468)],
 [(515,585),(525,585),(522,595)],
 [(365,483),(375,490),(370,492)],
 [(382,510),(392,525),(386,525)],
 [(400,552),(410,570),(403,570)],
]
OCEANIA_DOTS = [(1272,182),(1004,258),(992,287),(860,398),(1165,408),(338,408),(65,667),(490,725),(1276,545),(1433,690),(1263,730),(1288,1065),(1265,1462),(78,1505),(28,1435),(763,457),(1095,700),(1105,745),(1190,745),(810,538),(880,550),(775,563),(740,568),(1020,573),(1280,815),(1292,857),(1305,885),(1278,918),(1288,930),(800,680),(820,678),(445,632),(475,540),(920,838)]


def P(frame, pts):
    x0, y0, kx, ky = frame
    return [(x0 + a / kx, y0 + b / ky) for a, b in pts]


fig = plt.figure(figsize=(10, 7.5), dpi=300)
ax = fig.add_axes([0, 0, 1, 1])
ax.set_xlim(0, 3000)
ax.set_ylim(2250, 0)
ax.axis("off")


def poly(pts, fc=GRAY, z=2, lw=LW):
    xs, ys = zip(*pts)
    ax.fill(xs, ys, facecolor=fc, edgecolor="black", linewidth=lw, joinstyle="round", zorder=z)


def lines(frame, items, z=3, lw=LW):
    for it in items:
        xs, ys = zip(*P(frame, it))
        ax.plot(xs, ys, color="black", linewidth=lw, solid_joinstyle="round", solid_capstyle="round", zorder=z)


def dots(frame, items, z=3):
    xs, ys = zip(*P(frame, items))
    ax.plot(xs, ys, ls="none", marker="o", ms=0.9, mfc="black", mec="black", mew=0.2, zorder=z)


# gray land
poly(P(Z1, NORTH_AMERICA))
for p in NA_ISLANDS:
    poly(P(Z1, p))
poly(P(Z4, SOUTH_AMERICA))
for p in SA_ISLANDS:
    poly(P(Z4, p))
poly(P(Z2, GREENLAND))
poly(P(Z8, EURASIA_A) + P(Z3, EURASIA_B) + P(Z2, EURASIA_C) + P(Z8, EURASIA_D))
poly(P(Z8, BLACK_SEA), fc="white", z=2.5)
for p in EU_ISLANDS:
    poly(P(Z8, p))
for p in NORTH_ISLANDS_Z2:
    poly(P(Z2, p))
for p in ASIA_ISLANDS_Z3:
    poly(P(Z3, p))
poly(P(Z2, AFRICA_A) + P(Z5, AFRICA_B) + P(Z2, AFRICA_C))
for p in AF_ISLANDS:
    poly(P(Z5, p))
poly(P(Z6, BORNEO_NORTH))
poly(P(Z6, PNG))
for p in OCEANIA:
    poly(P(Z6, p))

# borders and rough coasts
lines(Z1, NA_BORDERS)
lines(Z1, NA_JAGS, lw=1.1)
lines(Z4, SA_BORDERS)
lines(Z4, SA_JAGS, lw=1.3)
lines(Z8, EU_BORDERS)
lines(Z8, EU_JAGS, lw=1.0)
lines(Z2, MIDEAST_BORDERS)
lines(Z2, GREENLAND_JAGS, lw=1.1)
lines(Z3, ASIA_BORDERS_Z3)
lines(Z5, AF_BORDERS)
lines(Z5, AF_JAGS, lw=1.0)
lines(Z2, AF_BORDERS_Z2)
dots(Z1, NA_DOTS)
dots(Z4, SA_DOTS)
dots(Z8, EU_DOTS)
dots(Z3, ASIA_DOTS_Z3)
dots(Z5, AF_DOTS)
dots(Z2, AF_DOTS_Z2)
dots(Z6, OCEANIA_DOTS)

# blue countries
B = dict(fc=BLUE, z=4)
for p in (UKRAINE, CRIMEA, GEORGIA_AZ, ARMENIA):
    poly(P(Z8, p), **B)
poly(P(Z2, CASIA_A) + P(Z3, CASIA_B) + P(Z2, CASIA_C), **B)
poly(P(Z2, AFGHAN_A) + P(Z3, AFGHAN_B) + P(Z2, AFGHAN_C), **B)
for p in (INDIA_BURMA, CAMBODIA, LUZON, VISAYAS, MINDANAO, PALAWAN):
    poly(P(Z3, p), **B)
for p in (NEPAL, BHUTAN):
    poly(P(Z3, p), z=4.5)
for p in [SUMATRA, JAVA, BORNEO, SULAWESI, PAPUA] + LESSER_SUNDA + MOLUCCAS:
    poly(P(Z6, p), **B)
for p in (NIGERIA, SUDAN, ETHIOPIA, DRC, UGANDA, KENYA, TANZANIA, ZAMBIA, MALAWI, MOZAMBIQUE, ZIMBABWE, SOUTH_AFRICA):
    poly(P(Z5, p), **B)
for p in GRAY_ON_BLUE_Z5:
    poly(P(Z5, p), z=4.5)
lines(Z2, CASIA_LINES_Z2, z=5)
lines(Z3, CASIA_LINES_Z3, z=5)
lines(Z3, INDIA_LINES, z=5)

# texts
for txt, y in zip(TITLE_LINES, (157, 296)):
    ax.text(62, y, txt, family="Lato", weight="bold", fontsize=26.1, color="black", va="baseline", ha="left", zorder=6)
for txt, y in zip(NOTE_LINES, (2072, 2133, 2192)):
    ax.text(61, y, txt, family="Lato", fontsize=11.03, color="black", va="baseline", ha="left", zorder=6)

# logo
ax.add_patch(plt.Rectangle((2790, 2040), 180, 181, facecolor=NAVY, edgecolor="none", zorder=6))
LOGO_Y = (2071, 2128, 2173, 2210)
LOGO_SIZE = (5.9, 11.5, 11.3, 6.0)
for txt, y, s in zip(LOGO_LINES, LOGO_Y, LOGO_SIZE):
    ax.text(2880, y, txt, family="Liberation Serif", fontsize=s, color="white", ha="center", va="baseline", zorder=7)
ax.plot([2800, 2959], [2079, 2079], color="#D5DCE6", lw=0.4, zorder=7)
ax.plot([2800, 2959], [2184, 2184], color="#9FB0C6", lw=0.6, zorder=7)

fig.savefig("out.png", dpi=300, facecolor="white")
